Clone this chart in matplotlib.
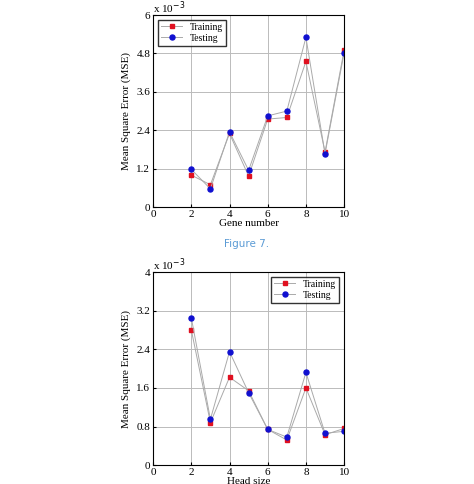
import matplotlib
matplotlib.use('Agg')
import matplotlib.pyplot as plt

plt.rcParams['font.family'] = 'Liberation Serif'
plt.rcParams['font.size'] = 8

# Figure 7: gene number
gene = [2, 3, 4, 5, 6, 7, 8, 9, 10]
gene_train = [1.0, 0.7, 2.3, 0.97, 2.75, 2.8, 4.55, 1.72, 4.9]
gene_test = [1.18, 0.57, 2.35, 1.15, 2.85, 3.0, 5.3, 1.67, 4.82]

# Second chart: head size
head = [2, 3, 4, 5, 6, 7, 8, 9, 10]
head_train = [2.8, 0.88, 1.82, 1.54, 0.74, 0.52, 1.6, 0.63, 0.76]
head_test = [3.05, 0.95, 2.35, 1.5, 0.74, 0.58, 1.92, 0.66, 0.7]

fig = plt.figure(figsize=(4.74, 4.84), dpi=100)
ax1 = fig.add_axes([0.323, 0.572, 0.403, 0.397])
ax2 = fig.add_axes([0.323, 0.039, 0.403, 0.399])


def fmt(t):
    return str(int(t)) if float(t).is_integer() else f'{t:.1f}'


def draw(ax, x, tr, te, ymax, yticks, xlabel, legend_loc):
    ax.plot(x, tr, color='#aaaaaa', lw=0.7, marker='s', ms=3.2,
            mfc='#e01020', mec='#e01020', label='Training')
    ax.plot(x, te, color='#aaaaaa', lw=0.7, marker='o', ms=3.6,
            mfc='#1010d0', mec='#1010d0', label='Testing')
    ax.set_xlim(0, 10)
    ax.set_ylim(0, ymax)
    ax.set_xticks([0, 2, 4, 6, 8, 10])
    ax.set_yticks(yticks)
    ax.set_yticklabels([fmt(t) for t in yticks])
    ax.grid(True, color='#bbbbbb', lw=0.7)
    ax.tick_params(direction='in', length=2, labelsize=8, pad=2)
    ax.set_xlabel(xlabel, fontsize=8, labelpad=0)
    ax.set_ylabel('Mean Square Error (MSE)', fontsize=8, labelpad=4)
    ax.text(0.0, 1.01, r'x 10$^{-3}$', transform=ax.transAxes, fontsize=8)
    ax.legend(loc=legend_loc, fontsize=7, fancybox=False, edgecolor='black',
              handlelength=2.2, borderpad=0.3, labelspacing=0.2)


draw(ax1, gene, gene_train, gene_test, 6, [0, 1.2, 2.4, 3.6, 4.8, 6],
     'Gene number', 'upper left')
draw(ax2, head, head_train, head_test, 4, [0, 0.8, 1.6, 2.4, 3.2, 4],
     'Head size', 'upper right')

fig.text(0.52, 0.496, 'Figure 7.', color='#5b9bd5', fontsize=7.5, ha='center',
         va='center', family='DejaVu Sans')

fig.savefig('out.png', dpi=100)
